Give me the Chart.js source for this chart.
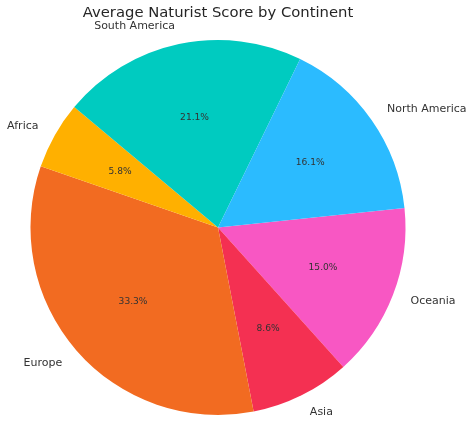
<!DOCTYPE html>
<html>
<head>
<meta charset="utf-8">
<script src="https://cdn.jsdelivr.net/npm/chart.js@4"></script>
<style>
html,body{margin:0;padding:0;background:#fff;}
#wrap{width:474px;height:439px;position:relative;}
</style>
</head>
<body>
<div id="wrap"><canvas id="c" width="474" height="439"></canvas></div>
<script>
// Data (clockwise order, starting just above 3 o'clock)
const categories = ["Oceania", "Asia", "Europe", "Africa", "South America", "North America"];
const shares = [15.0, 8.6, 33.3, 5.8, 21.1, 16.1];
const colors = ["#F857C3", "#F43052", "#F26B21", "#FFB000", "#00CBC0", "#2BBBFF"];
const titleText = "Average Naturist Score by Continent";

const labelPlugin = {
  id: 'mplLabels',
  afterDatasetsDraw(chart) {
    const ctx = chart.ctx;
    const meta = chart.getDatasetMeta(0);
    ctx.save();
    meta.data.forEach((arc, i) => {
      const p = arc.getProps(['x','y','startAngle','endAngle','outerRadius'], true);
      const mid = (p.startAngle + p.endAngle) / 2;
      const cx = Math.cos(mid), cy = Math.sin(mid);
      // outer category label
      ctx.font = '11px "DejaVu Sans"';
      ctx.fillStyle = '#333333';
      ctx.textBaseline = 'middle';
      ctx.textAlign = cx >= 0 ? 'left' : 'right';
      ctx.fillText(chart.data.labels[i], p.x + cx * p.outerRadius * 1.1, p.y + cy * p.outerRadius * 1.1);
      // percentage label
      ctx.font = '9.1px "DejaVu Sans"';
      ctx.textAlign = 'center';
      ctx.fillStyle = '#333333';
      ctx.fillText(chart.data.datasets[0].data[i].toFixed(1) + '%', p.x + cx * p.outerRadius * 0.6, p.y + cy * p.outerRadius * 0.6);
    });
    // title
    ctx.font = '14.8px "DejaVu Sans"';
    ctx.fillStyle = '#262626';
    ctx.textAlign = 'center';
    ctx.textBaseline = 'middle';
    ctx.fillText(titleText, 218, 13);
    ctx.restore();
  }
};

new Chart(document.getElementById('c'), {
  type: 'pie',
  data: {
    labels: categories,
    datasets: [{
      data: shares,
      backgroundColor: colors,
      borderWidth: 0
    }]
  },
  options: {
    responsive: false,
    animation: false,
    rotation: 84,
    layout: { padding: { left: 30, top: 40, right: 68, bottom: 24 } },
    plugins: {
      legend: { display: false },
      title: { display: false },
      tooltip: { enabled: false }
    }
  },
  plugins: [labelPlugin]
});
</script>
</body>
</html>
